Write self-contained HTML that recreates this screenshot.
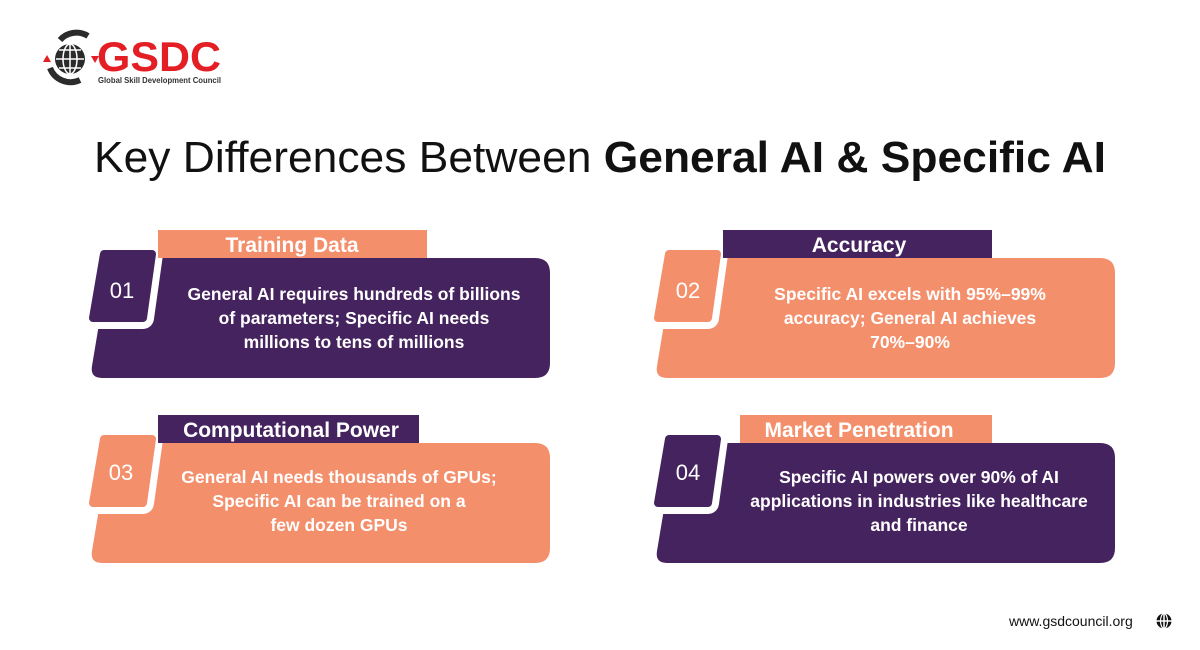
<!DOCTYPE html>
<html><head><meta charset="utf-8"><style>
body{margin:0;background:#fff;}
svg{display:block;font-family:"Liberation Sans",sans-serif;}
</style></head><body>
<svg width="1200" height="650" viewBox="0 0 1200 650" xmlns="http://www.w3.org/2000/svg">
<rect width="1200" height="650" fill="#fff"/>
<!-- logo -->
<g>
<path d="M60,40 A22,22 0 0 1 88,36" stroke="#2b2b2b" stroke-width="6" fill="none"/>
<path d="M50,68 A22,22 0 0 0 80,80" stroke="#2b2b2b" stroke-width="6" fill="none"/>
<circle cx="70" cy="59" r="15" fill="#2b2b2b"/>
<path d="M56,59 H84 M70,44 V74 M59,50 H81 M59,68 H81" stroke="#fff" stroke-width="1.5"/>
<ellipse cx="70" cy="59" rx="7" ry="15" fill="none" stroke="#fff" stroke-width="1.5"/>
<polygon points="43,62 51,62 47,55" fill="#e31e24"/>
<polygon points="91,56 99,56 95,63" fill="#e31e24"/>
<text x="97" y="71" font-size="42" font-weight="bold" fill="#e31e24" textLength="124" lengthAdjust="spacingAndGlyphs">GSDC</text>
<text x="98" y="83" font-size="8" font-weight="bold" fill="#333" textLength="123" lengthAdjust="spacingAndGlyphs">Global Skill Development Council</text>
</g>
<text x="600" y="172" text-anchor="middle" font-size="44" fill="#111" textLength="1012" lengthAdjust="spacingAndGlyphs">Key Differences Between <tspan font-weight="bold">General AI &amp; Specific AI</tspan></text>

<g transform="translate(90,258)">
<path d="M22,0 H445 Q460,0 460,15 V105 Q460,120 445,120 H12 Q0,120 2,108 L18,12 Q20,0 22,0Z" fill="#45235e"/>
<polygon points="14,-4 62,-4 53,60 3,60" fill="#45235e" stroke="#fff" stroke-width="22" stroke-linejoin="round"/>
<polygon points="14,-4 62,-4 53,60 3,60" fill="#45235e" stroke="#45235e" stroke-width="8" stroke-linejoin="round"/>
<rect x="68" y="-28" width="269" height="28" fill="#f48f6c"/>
<text x="202" y="-6" text-anchor="middle" font-size="21" font-weight="bold" fill="#fff">Training Data</text>
<text x="32" y="40" text-anchor="middle" font-size="22" fill="#fff">01</text>
<g font-size="17.5" font-weight="bold" fill="#fff" text-anchor="middle">
<text x="264" y="42">General AI requires hundreds of billions</text>
<text x="264" y="66">of parameters; Specific  AI needs</text>
<text x="264" y="90">millions to tens of millions</text></g>
</g>

<g transform="translate(655,258)">
<path d="M22,0 H445 Q460,0 460,15 V105 Q460,120 445,120 H12 Q0,120 2,108 L18,12 Q20,0 22,0Z" fill="#f48f6c"/>
<polygon points="14,-4 62,-4 53,60 3,60" fill="#f48f6c" stroke="#fff" stroke-width="22" stroke-linejoin="round"/>
<polygon points="14,-4 62,-4 53,60 3,60" fill="#f48f6c" stroke="#f48f6c" stroke-width="8" stroke-linejoin="round"/>
<rect x="68" y="-28" width="269" height="28" fill="#45235e"/>
<text x="204" y="-6" text-anchor="middle" font-size="21" font-weight="bold" fill="#fff">Accuracy</text>
<text x="33" y="40" text-anchor="middle" font-size="22" fill="#fff">02</text>
<g font-size="17.5" font-weight="bold" fill="#fff" text-anchor="middle">
<text x="255" y="42">Specific AI excels with 95%–99%</text>
<text x="255" y="66">accuracy; General AI achieves</text>
<text x="255" y="90">70%–90%</text></g>
</g>

<g transform="translate(90,443)">
<path d="M22,0 H445 Q460,0 460,15 V105 Q460,120 445,120 H12 Q0,120 2,108 L18,12 Q20,0 22,0Z" fill="#f48f6c"/>
<polygon points="14,-4 62,-4 53,60 3,60" fill="#f48f6c" stroke="#fff" stroke-width="22" stroke-linejoin="round"/>
<polygon points="14,-4 62,-4 53,60 3,60" fill="#f48f6c" stroke="#f48f6c" stroke-width="8" stroke-linejoin="round"/>
<rect x="68" y="-28" width="261" height="28" fill="#45235e"/>
<text x="201" y="-6" text-anchor="middle" font-size="21" font-weight="bold" fill="#fff">Computational Power</text>
<text x="31" y="37" text-anchor="middle" font-size="22" fill="#fff">03</text>
<g font-size="17.5" font-weight="bold" fill="#fff" text-anchor="middle">
<text x="249" y="40">General AI needs thousands of GPUs;</text>
<text x="249" y="64">Specific AI can be trained on a</text>
<text x="249" y="88">few dozen GPUs</text></g>
</g>

<g transform="translate(655,443)">
<path d="M22,0 H445 Q460,0 460,15 V105 Q460,120 445,120 H12 Q0,120 2,108 L18,12 Q20,0 22,0Z" fill="#45235e"/>
<polygon points="14,-4 62,-4 53,60 3,60" fill="#45235e" stroke="#fff" stroke-width="22" stroke-linejoin="round"/>
<polygon points="14,-4 62,-4 53,60 3,60" fill="#45235e" stroke="#45235e" stroke-width="8" stroke-linejoin="round"/>
<rect x="85" y="-28" width="252" height="28" fill="#f48f6c"/>
<text x="204" y="-6" text-anchor="middle" font-size="21" font-weight="bold" fill="#fff">Market Penetration</text>
<text x="33" y="37" text-anchor="middle" font-size="22" fill="#fff">04</text>
<g font-size="17.5" font-weight="bold" fill="#fff" text-anchor="middle">
<text x="264" y="40">Specific AI powers over 90% of AI</text>
<text x="264" y="64">applications in industries like healthcare</text>
<text x="264" y="88">and finance</text></g>
</g>

<text x="1009" y="626" font-size="14" fill="#111">www.gsdcouncil.org</text>
<circle cx="1164" cy="621" r="7.5" fill="#111"/>
<path d="M1156.5,621 H1171.5 M1164,613.5 V628.5" stroke="#fff" stroke-width="1.5"/>
<ellipse cx="1164" cy="621" rx="3.5" ry="7.5" fill="none" stroke="#fff" stroke-width="1.2"/>
</svg>
</body></html>
